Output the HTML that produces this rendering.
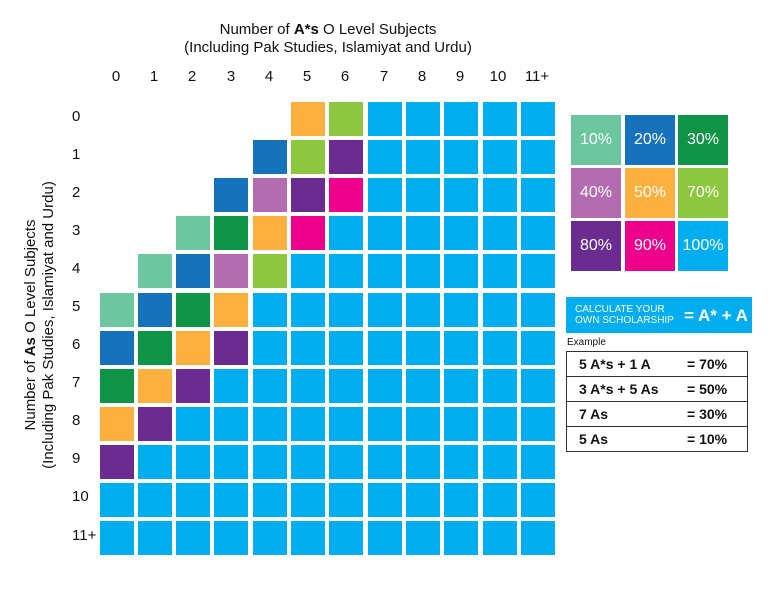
<!DOCTYPE html>
<html><head><meta charset="utf-8"><style>
body{margin:0;width:768px;height:592px;background:#fff;position:relative;overflow:hidden;font-family:"Liberation Sans",sans-serif;color:#111}
.a{position:absolute}
.c{position:absolute;width:34px;height:34px}
.cl{position:absolute;top:68px;width:38px;text-align:center;font-size:15px}
.rl{position:absolute;left:72px;width:30px;text-align:left;font-size:15px}
.lg{position:absolute;width:50px;height:50px;color:#fff;font-size:16px;text-align:center;line-height:50px}
.tr{position:absolute;left:566px;width:180px;height:24px;border:1px solid #333;font-size:14px;font-weight:bold;line-height:24px}
.tr span{position:absolute;left:120px}
.tr b{position:absolute;left:12px}
</style></head><body>
<div class="a" style="left:0;width:656px;top:21px;text-align:center;font-size:15px;line-height:18px">Number of <b>A*s</b> O Level Subjects<br>(Including Pak Studies, Islamiyat and Urdu)</div>
<div class="cl" style="left:97px">0</div><div class="cl" style="left:135px">1</div><div class="cl" style="left:173px">2</div><div class="cl" style="left:212px">3</div><div class="cl" style="left:250px">4</div><div class="cl" style="left:288px">5</div><div class="cl" style="left:326px">6</div><div class="cl" style="left:365px">7</div><div class="cl" style="left:403px">8</div><div class="cl" style="left:441px">9</div><div class="cl" style="left:479px">10</div><div class="cl" style="left:518px">11+</div>
<div class="rl" style="top:108px">0</div><div class="rl" style="top:146px">1</div><div class="rl" style="top:184px">2</div><div class="rl" style="top:222px">3</div><div class="rl" style="top:260px">4</div><div class="rl" style="top:298px">5</div><div class="rl" style="top:336px">6</div><div class="rl" style="top:374px">7</div><div class="rl" style="top:412px">8</div><div class="rl" style="top:450px">9</div><div class="rl" style="top:488px">10</div><div class="rl" style="top:527px">11+</div>
<div class="a" style="left:-130px;top:307px;width:340px;text-align:center;font-size:15px;line-height:18px;transform:rotate(-90deg)">Number of <b>As</b> O Level Subjects<br>(Including Pak Studies, Islamiyat and Urdu)</div>
<div id="g"></div>
<div class="lg" style="left:571px;top:115px;background:#6cc6a0">10%</div>
<div class="lg" style="left:625px;top:115px;background:#1672ba">20%</div>
<div class="lg" style="left:678px;top:115px;background:#0f9447">30%</div>
<div class="lg" style="left:571px;top:168px;background:#b46cb0">40%</div>
<div class="lg" style="left:625px;top:168px;background:#fbb040">50%</div>
<div class="lg" style="left:678px;top:168px;background:#8dc63f">70%</div>
<div class="lg" style="left:571px;top:221px;background:#6a2c91">80%</div>
<div class="lg" style="left:625px;top:221px;background:#ec008c">90%</div>
<div class="lg" style="left:678px;top:221px;background:#00aeef">100%</div>
<div class="a" style="left:566px;top:297px;width:186px;height:36px;background:#00aeef;color:#fff">
<div class="a" style="left:9px;top:7px;font-size:10px;line-height:11px">CALCULATE YOUR<br>OWN SCHOLARSHIP</div>
<div class="a" style="left:118px;top:9px;font-size:17px;font-weight:bold">= A* + A</div></div>
<div class="a" style="left:567px;top:337px;font-size:10px">Example</div>
<div class="tr" style="top:351px"><b>5 A*s + 1 A</b><span>= 70%</span></div>
<div class="tr" style="top:376px"><b>3 A*s + 5 As</b><span>= 50%</span></div>
<div class="tr" style="top:401px"><b>7 As</b><span>= 30%</span></div>
<div class="tr" style="top:426px"><b>5 As</b><span>= 10%</span></div>
<script>
var C={1:'#6cc6a0',2:'#1672ba',3:'#0f9447',4:'#b46cb0',5:'#fbb040',7:'#8dc63f',8:'#6a2c91',9:'#ec008c',0:'#00aeef'};
var R=[[5,[5,7]],[4,[2,7,8]],[3,[2,4,8,9]],[2,[1,3,5,9]],[1,[1,2,4,7]],[0,[1,2,3,5]],[0,[2,3,5,8]],[0,[3,5,8]],[0,[5,8]],[0,[8]],[0,[]],[0,[]]];
var h='';
for(var r=0;r<12;r++){var s=R[r][0],v=R[r][1];for(var c=s;c<12;c++){var k=c-s;var col=k<v.length?C[v[k]]:C[0];h+='<div class="c" style="left:'+(99.5+c*38.3).toFixed(1)+'px;top:'+(102+r*38.1).toFixed(1)+'px;background:'+col+'"></div>';}}
document.getElementById('g').innerHTML=h;
</script>
</body></html>
